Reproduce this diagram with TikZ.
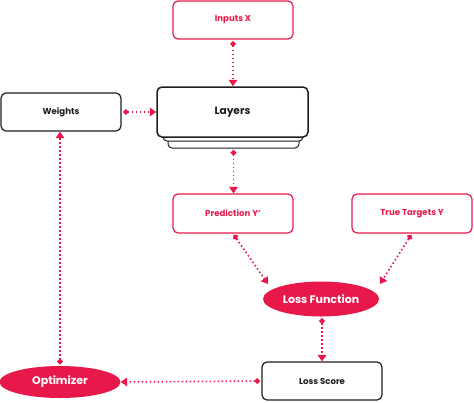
\documentclass[tikz,border=0pt]{standalone}
\usepackage{fontspec}
\setmainfont{Poppins}
\usetikzlibrary{arrows.meta,shapes.geometric}
\definecolor{kred}{HTML}{E8194A}
\definecolor{kdark}{HTML}{1E1E1E}
\begin{document}
\begin{tikzpicture}[x=1pt,y=-1pt,
  box/.style={draw, rounded corners=5pt, line width=1.2pt, minimum width=120pt, minimum height=38pt, font=\bfseries\fontsize{8.6}{10}\selectfont, inner sep=0pt},
  redbox/.style={box, draw=kred, text=kred},
  blackbox/.style={box, draw=kdark, text=kdark},
  layerbelow/.style={draw=kdark, fill=white, line width=1pt, rounded corners=4pt, inner sep=0pt},
  blob/.style={ellipse, fill=kred, text=white, font=\bfseries\fontsize{11}{13}\selectfont, inner sep=0pt},
  flow/.style={kred, line width=1.6pt, dash pattern=on 1.6pt off 2.4pt, shorten <=1.5pt, {Circle[length=5.5pt]}-{Triangle[length=6.5pt,width=8.5pt]}}]
\useasboundingbox (0,0) rectangle (474,402);
% nodes
\node[redbox] (inputs) at (233,20) {Inputs X};
\node[layerbelow, minimum width=131pt, minimum height=20pt] (stack2) at (233.5,138) {};
\node[layerbelow, minimum width=140pt, minimum height=16pt] (stack1) at (233,133) {};
\node[blackbox, minimum width=151pt, minimum height=50pt, line width=1.5pt, fill=white, font=\bfseries\fontsize{10.6}{12}\selectfont] (layers) at (232.5,112) {Layers};
\node[blackbox] (weights) at (61,112) {Weights};
\node[redbox, minimum height=39pt] (prediction) at (233,213.5) {Prediction Y’};
\node[redbox, minimum height=39pt] (truet) at (412,213.5) {True Targets Y};
\node[blob, minimum width=116pt, minimum height=35pt] (lossfn) at (321,299) {Loss Function};
\node[blackbox] (lossscore) at (322,381) {Loss Score};
\node[blob, minimum width=121pt, minimum height=32pt] (optimizer) at (60,382) {Optimizer};
\coordinate (lfin1) at (268,284);
\coordinate (lfin2) at (380,284);
% connectors
\draw[flow] (inputs.south) -- (inputs.south |- layers.north);
\draw[flow] (weights.east) -- (layers.west);
\draw[flow] (stack2.south) -- (stack2.south |- prediction.north);
\draw[flow] (prediction.south) -- (lfin1);
\draw[flow] (truet.south) -- (lfin2);
\draw[flow] (lossscore.north |- lossfn.south) -- (lossscore.north);
\draw[flow] (lossscore.west) -- (optimizer.east);
\draw[flow] (optimizer.north) -- (optimizer.north |- weights.south);
\end{tikzpicture}
\end{document}
